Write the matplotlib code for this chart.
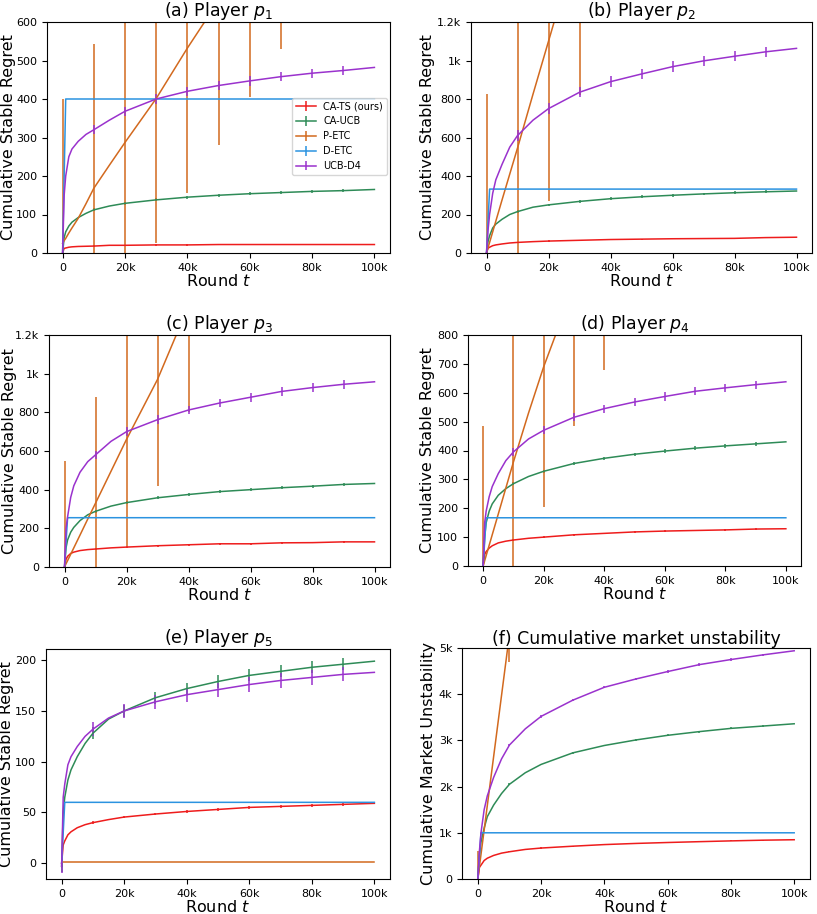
import numpy as np
import matplotlib
matplotlib.use('Agg')
import matplotlib.pyplot as plt
from matplotlib.ticker import FuncFormatter

rounds = [0, 500, 1000, 2000, 3000, 5000, 7500, 10000, 15000, 20000,
          30000, 40000, 50000, 60000, 70000, 80000, 90000, 100000]

methods = ['CA-TS (ours)', 'CA-UCB', 'P-ETC', 'D-ETC', 'UCB-D4']
colors = ['#ee1c1c', '#2e8b57', '#d2691e', '#2b93e0', '#9a32cd']

# (a) player p1
a_ts   = [0, 12, 13, 15, 16, 17, 17.5, 18, 20, 20, 21, 21, 22, 22, 22, 22, 22, 22]
a_ucb  = [0, 40, 55, 70, 80, 92, 103, 112, 122, 129, 138, 145, 150, 154, 157, 160, 162, 165]
a_petc = [25, 32, 38, 52, 65, 90, 128, 168, 228, 287, 401, 532, 655, 780, 905, 1030, 1155, 1280]
a_detc = [0, 200, 400, 400, 400, 400, 400, 400, 400, 400, 400, 400, 400, 400, 400, 400, 400, 400]
a_d4   = [0, 150, 200, 250, 270, 290, 308, 320, 345, 368, 400, 420, 435, 447, 458, 467, 474, 482]
a_err  = [2, 4, 375, 1, 12]

# (b) player p2
b_ts   = [0, 25, 30, 38, 42, 47, 52, 55, 59, 62, 66, 70, 72, 74, 75, 76, 80, 82]
b_ucb  = [0, 60, 90, 130, 150, 175, 200, 215, 238, 250, 268, 282, 292, 300, 307, 313, 318, 322]
b_petc = [0, 28, 55, 110, 165, 275, 410, 545, 825, 1100, 1650, 2200, 2750, 3300, 3850, 4400, 4950, 5500]
b_detc = [0, 165, 332, 332, 332, 332, 332, 332, 332, 332, 332, 332, 332, 332, 332, 332, 332, 332]
b_d4   = [0, 120, 200, 310, 380, 460, 550, 610, 690, 750, 835, 890, 930, 968, 998, 1022, 1045, 1063]
b_err  = [3, 7, 828, 2, 27]

# (c) player p3
c_ts   = [0, 40, 55, 70, 77, 85, 90, 93, 99, 103, 110, 115, 120, 120, 125, 126, 130, 130]
c_ucb  = [0, 100, 140, 180, 205, 240, 270, 288, 315, 333, 358, 375, 390, 400, 410, 418, 427, 432]
c_petc = [0, 17, 33, 66, 99, 165, 248, 330, 495, 660, 970, 1350, 1800, 2250, 2700, 3150, 3600, 4050]
c_detc = [0, 128, 255, 255, 255, 255, 255, 255, 255, 255, 255, 255, 255, 255, 255, 255, 255, 255]
c_d4   = [0, 200, 260, 360, 420, 490, 545, 580, 650, 700, 762, 812, 848, 878, 908, 928, 945, 958]
c_err  = [4, 7, 550, 2, 22]

# (d) player p4
d_ts   = [0, 40, 50, 62, 70, 80, 86, 90, 96, 100, 108, 113, 118, 121, 123, 125, 128, 129]
d_ucb  = [0, 100, 150, 190, 215, 245, 268, 285, 310, 328, 355, 373, 387, 398, 408, 416, 423, 430]
d_petc = [0, 18, 36, 72, 108, 180, 270, 360, 530, 690, 970, 1165, 1350, 1530, 1700, 1870, 2040, 2200]
d_detc = [0, 84, 167, 167, 167, 167, 167, 167, 167, 167, 167, 167, 167, 167, 167, 167, 167, 167]
d_d4   = [0, 150, 190, 240, 275, 320, 365, 395, 440, 470, 515, 545, 568, 587, 605, 617, 628, 638]
d_err  = [3, 6, 485, 1, 14]

# (e) player p5
e_ts   = [0, 18, 22, 28, 31, 35, 38, 40, 43, 45.5, 48.5, 51, 53, 55, 56, 57, 58, 59]
e_ucb  = [-3, 50, 65, 82, 92, 105, 118, 128, 142, 150, 163, 172, 179, 185, 189, 193, 196, 199]
e_petc = [1, 1, 1, 1, 1, 1, 1, 1, 1, 1, 1, 1, 1, 1, 1, 1, 1, 1]
e_detc = [0, 30, 60, 60, 60, 60, 60, 60, 60, 60, 60, 60, 60, 60, 60, 60, 60, 60]
e_d4   = [-3, 65, 78, 97, 105, 115, 125, 132, 143, 150, 159, 166, 171, 176, 180, 183, 186, 188]
e_err  = [1.2, 6, 0, 0.5, 7]

# (f) market unstability
f_ts   = [0, 250, 300, 400, 450, 510, 560, 590, 640, 670, 710, 745, 770, 790, 808, 825, 840, 850]
f_ucb  = [0, 500, 800, 1100, 1350, 1600, 1850, 2050, 2300, 2480, 2730, 2890, 3010, 3110, 3190, 3260, 3310, 3360]
f_petc = [0, 265, 530, 1060, 1590, 2650, 3975, 5300, 7950, 10600, 15900, 21200, 26500, 31800, 37100, 42400, 47700, 53000]
f_detc = [0, 500, 1000, 1000, 1000, 1000, 1000, 1000, 1000, 1000, 1000, 1000, 1000, 1000, 1000, 1000, 1000, 1000]
f_d4   = [0, 600, 1000, 1500, 1800, 2200, 2600, 2900, 3250, 3520, 3870, 4150, 4330, 4490, 4640, 4750, 4850, 4940]
f_err  = [12, 20, 600, 4, 25]

titles = [r'(a) Player $p_1$', r'(b) Player $p_2$', r'(c) Player $p_3$',
          r'(d) Player $p_4$', r'(e) Player $p_5$', '(f) Cumulative market unstability']
ylabels = ['Cumulative Stable Regret'] * 5 + ['Cumulative Market Unstability']
panels = [
    ([a_ts, a_ucb, a_petc, a_detc, a_d4], a_err, (0, 600)),
    ([b_ts, b_ucb, b_petc, b_detc, b_d4], b_err, (0, 1200)),
    ([c_ts, c_ucb, c_petc, c_detc, c_d4], c_err, (0, 1200)),
    ([d_ts, d_ucb, d_petc, d_detc, d_d4], d_err, (0, 800)),
    ([e_ts, e_ucb, e_petc, e_detc, e_d4], e_err, (-15.5, 211)),
    ([f_ts, f_ucb, f_petc, f_detc, f_d4], f_err, (0, 5000)),
]

# axes boxes in pixels: left, top, right, bottom
boxes = [(47, 22, 390, 253), (471, 22, 812, 253),
         (49, 335, 390, 567), (468, 335, 801, 566),
         (46, 649, 390, 879), (462, 648, 810, 879)]
# x pixel of the right edge of each y label
ylab_px = [16, 435, 17, 435, 14, 436]

W, H = 817, 914
fig = plt.figure(figsize=(W / 100, H / 100), dpi=100)

def kfmt(v, pos):
    if abs(v) >= 1000:
        return f'{v / 1000:g}k'
    return f'{v:g}'

x = np.array(rounds)
mask = (x % 10000 == 0) & (x < 100000)

for i, (series, errs, ylim) in enumerate(panels):
    l, t, r, b = boxes[i]
    ax = fig.add_axes([l / W, (H - b) / H, (r - l) / W, (b - t) / H])
    for name, ys, err, c in zip(methods, series, errs, colors):
        ax.errorbar(x, ys, yerr=err, errorevery=mask, color=c, lw=1.1,
                    elinewidth=1.1, capsize=0, label=name)
    ax.set_ylim(*ylim)
    ax.set_xticks([0, 20000, 40000, 60000, 80000, 100000])
    ax.xaxis.set_major_formatter(FuncFormatter(kfmt))
    ax.yaxis.set_major_formatter(FuncFormatter(kfmt))
    ax.tick_params(labelsize=8)
    ax.set_title(titles[i], fontsize=12.5, pad=3)
    ax.set_ylabel(ylabels[i], fontsize=11.5)
    ax.yaxis.set_label_coords((ylab_px[i] - l) / (r - l), 0.5)
    ax.set_xlabel('Round $t$', fontsize=11.5, labelpad=0)
    if i == 0:
        ax.legend(loc='upper right', bbox_to_anchor=(1.0, 0.685), fontsize=7,
                  borderaxespad=0.3, handlelength=2.0)

fig.savefig('out.png', dpi=100)
